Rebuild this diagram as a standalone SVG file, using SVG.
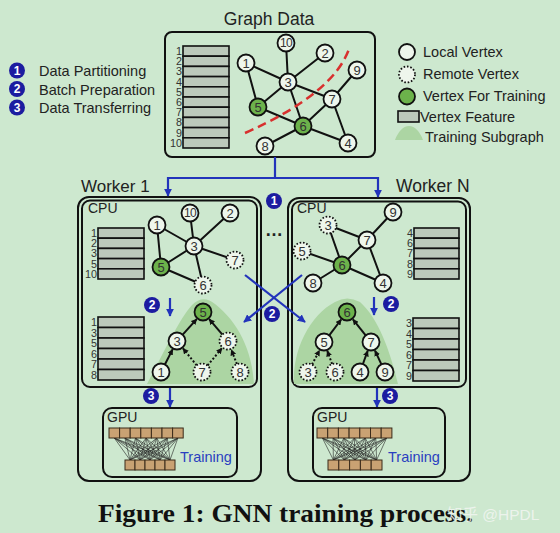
<svg xmlns="http://www.w3.org/2000/svg" width="560" height="533" viewBox="0 0 560 533">
<defs>
<style>
text{font-family:"Liberation Sans",Arial,sans-serif;fill:#222}
.n{fill:#eef6ec;stroke:#111;stroke-width:1.8}
.d{fill:#eef6ec;stroke:#111;stroke-width:1.8;stroke-dasharray:1.6 1.8}
.g{fill:#6cb24b;stroke:#111;stroke-width:1.8}
.t{font-size:13px;text-anchor:middle;fill:#333}
.tt{font-size:12px;text-anchor:middle;fill:#333;letter-spacing:-0.6px}
.e{stroke:#111;stroke-width:2;fill:none}
.ea{stroke:#111;stroke-width:2;fill:none;marker-end:url(#ah)}
.ed{stroke:#111;stroke-width:2;fill:none;stroke-dasharray:2 2;marker-end:url(#ah)}
.ba{stroke:#2233bb;stroke-width:2.2;fill:none;marker-end:url(#bh)}
.b{stroke:#2233bb;stroke-width:2.2;fill:none}
.f{fill:#bcc9bb;stroke:#111;stroke-width:1.6}
.fn{font-size:10.8px;text-anchor:end;fill:#333}
.c{fill:#1c1ca0}
.cn{font-size:12px;font-weight:bold;fill:#fff;text-anchor:middle}
.box{fill:none;stroke:#111;stroke-width:2}
.sub{fill:#acd5a3}
.nn{fill:#c9a273;stroke:#3a2a1a;stroke-width:1}
.w{stroke:#222;stroke-width:0.6;fill:none}
.lg{font-size:14.5px}
</style>
<marker id="ah" viewBox="0 0 10 10" refX="9" refY="5" markerWidth="6" markerHeight="6" markerUnits="userSpaceOnUse" orient="auto"><path d="M0,0L10,5L0,10z" fill="#111"/></marker>
<marker id="bh" viewBox="0 0 10 10" refX="9" refY="5" markerWidth="8" markerHeight="8" markerUnits="userSpaceOnUse" orient="auto"><path d="M0,0L10,5L0,10z" fill="#2233bb"/></marker>
</defs>
<rect width="560" height="533" fill="#cde8cf"/>

<!-- Titles -->
<text x="269" y="25" font-size="17.5" text-anchor="middle">Graph Data</text>
<text x="81" y="192" font-size="17">Worker 1</text>
<text x="396" y="192" font-size="17.5">Worker N</text>

<!-- Legend left -->
<g id="legend-steps">
<circle class="c" cx="17" cy="70.5" r="8"/><text class="cn" x="17" y="74.8">1</text>
<text class="lg" x="39" y="76">Data Partitioning</text>
<circle class="c" cx="17" cy="89" r="8"/><text class="cn" x="17" y="93.3">2</text>
<text class="lg" x="39" y="94.5">Batch Preparation</text>
<circle class="c" cx="17" cy="107.5" r="8"/><text class="cn" x="17" y="111.8">3</text>
<text class="lg" x="39" y="113">Data Transferring</text>
</g>

<!-- Legend right -->
<g id="legend-types">
<circle class="n" cx="407" cy="52" r="8"/><text class="lg" x="423" y="57">Local Vertex</text>
<circle class="d" cx="407" cy="74.5" r="8"/><text class="lg" x="423" y="79">Remote Vertex</text>
<circle class="g" cx="407" cy="96.5" r="8"/><text class="lg" x="423" y="101">Vertex For Training</text>
<rect class="f" x="398" y="111" width="21" height="11"/><text class="lg" x="420" y="122">Vertex Feature</text>
<path class="sub" d="M395,140C398,132 403,126 409,126C415,126 420,132 423,140Z"/><text class="lg" x="425" y="142">Training Subgraph</text>
</g>

<!-- Boxes -->
<g id="graph-data-box"><rect class="box" x="165" y="32" width="210" height="125" rx="7"/></g>
<g id="worker1">
<rect class="box" x="78" y="197" width="183" height="284" rx="11"/>
<rect class="box" x="82" y="200.5" width="175" height="186.5" rx="8"/>
<text x="88" y="213" font-size="14">CPU</text>
<path class="sub" d="M147,384C165,350 180,318 192,305Q203,294 215,304C238,322 252,350 254,384Z"/>
</g>
<g id="workerN">
<rect class="box" x="288" y="198" width="182" height="283" rx="11"/>
<rect class="box" x="292" y="201.5" width="174" height="185.5" rx="8"/>
<text x="297" y="213" font-size="14">CPU</text>
<path class="sub" d="M294,384C292,350 310,315 335,302Q347,295 360,302C378,318 390,350 398,384Z"/>
</g>

<!-- Feature tables -->
<g id="features-graph">
<rect class="f" x="183" y="46" width="46" height="10.2"/><rect class="f" x="183" y="56.2" width="46" height="10.2"/><rect class="f" x="183" y="66.4" width="46" height="10.2"/><rect class="f" x="183" y="76.6" width="46" height="10.2"/><rect class="f" x="183" y="86.8" width="46" height="10.2"/><rect class="f" x="183" y="97" width="46" height="10.2"/><rect class="f" x="183" y="107.2" width="46" height="10.2"/><rect class="f" x="183" y="117.4" width="46" height="10.2"/><rect class="f" x="183" y="127.6" width="46" height="10.2"/><rect class="f" x="183" y="137.8" width="46" height="10.2"/>
<text class="fn" x="182" y="55">1</text><text class="fn" x="182" y="65.2">2</text><text class="fn" x="182" y="75.4">3</text><text class="fn" x="182" y="85.6">4</text><text class="fn" x="182" y="95.8">5</text><text class="fn" x="182" y="106">6</text><text class="fn" x="182" y="116.2">7</text><text class="fn" x="182" y="126.4">8</text><text class="fn" x="182" y="136.6">9</text><text class="fn" x="182" y="146.8">10</text>
</g>
<g id="features-w1-all">
<rect class="f" x="98" y="228" width="46" height="10.2"/><rect class="f" x="98" y="238.2" width="46" height="10.2"/><rect class="f" x="98" y="248.4" width="46" height="10.2"/><rect class="f" x="98" y="258.6" width="46" height="10.2"/><rect class="f" x="98" y="268.8" width="46" height="10.2"/>
<text class="fn" x="97" y="237">1</text><text class="fn" x="97" y="247.2">2</text><text class="fn" x="97" y="257.4">3</text><text class="fn" x="97" y="267.6">5</text><text class="fn" x="97" y="277.8">10</text>
</g>
<g id="features-w1-batch">
<rect class="f" x="98" y="317" width="46" height="10.5"/><rect class="f" x="98" y="327.5" width="46" height="10.5"/><rect class="f" x="98" y="338" width="46" height="10.5"/><rect class="f" x="98" y="348.5" width="46" height="10.5"/><rect class="f" x="98" y="359" width="46" height="10.5"/><rect class="f" x="98" y="369.5" width="46" height="10.5"/>
<text class="fn" x="97" y="326.2">1</text><text class="fn" x="97" y="336.7">3</text><text class="fn" x="97" y="347.2">5</text><text class="fn" x="97" y="357.7">6</text><text class="fn" x="97" y="368.2">7</text><text class="fn" x="97" y="378.7">8</text>
</g>
<g id="features-wn-all">
<rect class="f" x="414" y="228" width="45" height="10.2"/><rect class="f" x="414" y="238.2" width="45" height="10.2"/><rect class="f" x="414" y="248.4" width="45" height="10.2"/><rect class="f" x="414" y="258.6" width="45" height="10.2"/><rect class="f" x="414" y="268.8" width="45" height="10.2"/>
<text class="fn" x="413" y="237">4</text><text class="fn" x="413" y="247.2">6</text><text class="fn" x="413" y="257.4">7</text><text class="fn" x="413" y="267.6">8</text><text class="fn" x="413" y="277.8">9</text>
</g>
<g id="features-wn-batch">
<rect class="f" x="413" y="318" width="46" height="10.5"/><rect class="f" x="413" y="328.5" width="46" height="10.5"/><rect class="f" x="413" y="339" width="46" height="10.5"/><rect class="f" x="413" y="349.5" width="46" height="10.5"/><rect class="f" x="413" y="360" width="46" height="10.5"/><rect class="f" x="413" y="370.5" width="46" height="10.5"/>
<text class="fn" x="412" y="327.2">3</text><text class="fn" x="412" y="337.7">4</text><text class="fn" x="412" y="348.2">5</text><text class="fn" x="412" y="358.7">6</text><text class="fn" x="412" y="369.2">7</text><text class="fn" x="412" y="379.7">9</text>
</g>

<!-- Connectors -->
<g id="connectors">
<path class="e" d="M246,63L288,82M246,63L258,107M286,43L288,82M325,53L288,82M288,82L258,107M288,82L303,126M288,82L332,99M258,107L303,126M357,70L332,99M332,99L303,126M332,99L348,143M303,126L348,143M303,126L265,146"/>
<path d="M245,133Q333,94 349,49" fill="none" stroke="#d8302e" stroke-width="2.5" stroke-dasharray="9 5"/>
<path class="e" d="M157,225L194,246M157,225L161,267M190,213L194,246M230,213L194,246M194,246L235,260M194,246L161,267M194,246L203,285M161,267L203,285"/>
<path class="e" d="M393,212L367,240M328,225L342,265M328,225L367,240M302,251L342,265M367,240L342,265M367,240L383,283M342,265L313,283M342,265L383,283"/>
<path class="ea" d="M182.7,334.7L196.7,319.1"/>
<path class="ea" d="M222.4,334.6L209.2,319.2"/>
<path class="ea" d="M164.9,364.5L172.6,349.4"/>
<path class="ed" d="M196.7,365.4L183,348.4"/>
<path class="ed" d="M207.5,365.5L221.9,348.3"/>
<path class="ed" d="M236.9,364.1L231.4,349.9"/>
<path class="ea" d="M329.2,335.3L341.2,319.5"/>
<path class="ea" d="M365.7,335.4L352.9,319.4"/>
<path class="ed" d="M312,364.5L319.5,350.4"/>
<path class="ed" d="M332.1,364L327.3,350.9"/>
<path class="ea" d="M362.9,364L367.7,350.9"/>
<path class="ea" d="M381.4,364.3L375,350.6"/>
<path class="b" d="M275,157V178M168,178H378"/>
<path class="ba" d="M168,177V196"/>
<path class="ba" d="M378,177V197"/>
<path class="ba" d="M245,275L305,322"/>
<path class="ba" d="M302,275L244,322"/>
<path class="ba" d="M170,298V316"/>
<path class="ba" d="M374,297V315"/>
<path class="ba" d="M170,388V407"/>
<path class="ba" d="M377,388V407"/>
</g>

<!-- step markers -->
<g id="step1"><circle class="c" cx="274" cy="201" r="8"/><text class="cn" x="274" y="205.3">1</text></g>
<g id="step2-w1"><circle class="c" cx="152" cy="305" r="8"/><text class="cn" x="152" y="309.3">2</text></g>
<g id="step2-mid"><circle class="c" cx="272" cy="314" r="8"/><text class="cn" x="272" y="318.3">2</text></g>
<g id="step2-wn"><circle class="c" cx="391" cy="304" r="8"/><text class="cn" x="391" y="308.3">2</text></g>
<g id="step3-w1"><circle class="c" cx="151" cy="396" r="8"/><text class="cn" x="151" y="400.3">3</text></g>
<g id="step3-wn"><circle class="c" cx="390" cy="396" r="8"/><text class="cn" x="390" y="400.3">3</text></g>
<text x="274" y="236" font-size="18" font-weight="bold" text-anchor="middle">…</text>

<!-- Graph data nodes -->
<g id="gd-10"><circle class="n" cx="286" cy="43" r="8.5"/><text class="tt" x="286" y="47.3">10</text></g>
<g id="gd-2"><circle class="n" cx="325" cy="53" r="8.5"/><text class="t" x="325" y="57.5">2</text></g>
<g id="gd-1"><circle class="n" cx="246" cy="63" r="8.5"/><text class="t" x="246" y="67.5">1</text></g>
<g id="gd-9"><circle class="n" cx="357" cy="70" r="8.5"/><text class="t" x="357" y="74.5">9</text></g>
<g id="gd-3"><circle class="n" cx="288" cy="82" r="8.5"/><text class="t" x="288" y="86.5">3</text></g>
<g id="gd-7"><circle class="n" cx="332" cy="99" r="8.5"/><text class="t" x="332" y="103.5">7</text></g>
<g id="gd-5"><circle class="g" cx="258" cy="107" r="8.5"/><text class="t" x="258" y="111.5">5</text></g>
<g id="gd-6"><circle class="g" cx="303" cy="126" r="8.5"/><text class="t" x="303" y="130.5">6</text></g>
<g id="gd-4"><circle class="n" cx="348" cy="143" r="8.5"/><text class="t" x="348" y="147.5">4</text></g>
<g id="gd-8"><circle class="n" cx="265" cy="146" r="8.5"/><text class="t" x="265" y="150.5">8</text></g>

<!-- Worker 1 CPU nodes -->
<g id="w1-1"><circle class="n" cx="157" cy="225" r="8.5"/><text class="t" x="157" y="229.5">1</text></g>
<g id="w1-10"><circle class="n" cx="190" cy="213" r="8.5"/><text class="tt" x="190" y="217.3">10</text></g>
<g id="w1-2"><circle class="n" cx="230" cy="213" r="8.5"/><text class="t" x="230" y="217.5">2</text></g>
<g id="w1-3"><circle class="n" cx="194" cy="246" r="8.5"/><text class="t" x="194" y="250.5">3</text></g>
<g id="w1-7"><circle class="d" cx="235" cy="260" r="8.5"/><text class="t" x="235" y="264.5">7</text></g>
<g id="w1-5"><circle class="g" cx="161" cy="267" r="8.5"/><text class="t" x="161" y="271.5">5</text></g>
<g id="w1-6"><circle class="d" cx="203" cy="285" r="8.5"/><text class="t" x="203" y="289.5">6</text></g>

<!-- Worker N CPU nodes -->
<g id="wn-9"><circle class="n" cx="393" cy="212" r="8.5"/><text class="t" x="393" y="216.5">9</text></g>
<g id="wn-3"><circle class="d" cx="328" cy="225" r="8.5"/><text class="t" x="328" y="229.5">3</text></g>
<g id="wn-7"><circle class="n" cx="367" cy="240" r="8.5"/><text class="t" x="367" y="244.5">7</text></g>
<g id="wn-5"><circle class="d" cx="302" cy="251" r="8.5"/><text class="t" x="302" y="255.5">5</text></g>
<g id="wn-6"><circle class="g" cx="342" cy="265" r="8.5"/><text class="t" x="342" y="269.5">6</text></g>
<g id="wn-8"><circle class="n" cx="313" cy="283" r="8.5"/><text class="t" x="313" y="287.5">8</text></g>
<g id="wn-4"><circle class="n" cx="383" cy="283" r="8.5"/><text class="t" x="383" y="287.5">4</text></g>

<!-- Worker 1 subgraph nodes -->
<g id="w1t-5"><circle class="g" cx="203" cy="312" r="8.5"/><text class="t" x="203" y="316.5">5</text></g>
<g id="w1t-3"><circle class="n" cx="177" cy="341" r="8.5"/><text class="t" x="177" y="345.5">3</text></g>
<g id="w1t-6"><circle class="d" cx="228" cy="341" r="8.5"/><text class="t" x="228" y="345.5">6</text></g>
<g id="w1t-1"><circle class="n" cx="161" cy="372" r="8.5"/><text class="t" x="161" y="376.5">1</text></g>
<g id="w1t-7"><circle class="d" cx="202" cy="372" r="8.5"/><text class="t" x="202" y="376.5">7</text></g>
<g id="w1t-8"><circle class="d" cx="240" cy="372" r="8.5"/><text class="t" x="240" y="376.5">8</text></g>

<!-- Worker N subgraph nodes -->
<g id="wnt-6"><circle class="g" cx="347" cy="312" r="8.5"/><text class="t" x="347" y="316.5">6</text></g>
<g id="wnt-5"><circle class="n" cx="324" cy="342" r="8.5"/><text class="t" x="324" y="346.5">5</text></g>
<g id="wnt-7"><circle class="n" cx="371" cy="342" r="8.5"/><text class="t" x="371" y="346.5">7</text></g>
<g id="wnt-3"><circle class="d" cx="308" cy="372" r="8.5"/><text class="t" x="308" y="376.5">3</text></g>
<g id="wnt-6b"><circle class="d" cx="335" cy="372" r="8.5"/><text class="t" x="335" y="376.5">6</text></g>
<g id="wnt-4"><circle class="n" cx="360" cy="372" r="8.5"/><text class="t" x="360" y="376.5">4</text></g>
<g id="wnt-9"><circle class="n" cx="385" cy="372" r="8.5"/><text class="t" x="385" y="376.5">9</text></g>

<!-- GPU Worker 1 -->
<g id="gpu-w1">
<rect class="box" x="103" y="408" width="134" height="69" rx="9"/>
<text x="107" y="422" font-size="14">GPU</text>
<path class="w" d="M114.3,438L130,460M114.3,438L140,460M114.3,438L150,460M114.3,438L160,460M114.3,438L170,460M124.9,438L130,460M124.9,438L140,460M124.9,438L150,460M124.9,438L160,460M124.9,438L170,460M135.5,438L130,460M135.5,438L140,460M135.5,438L150,460M135.5,438L160,460M135.5,438L170,460M146.1,438L130,460M146.1,438L140,460M146.1,438L150,460M146.1,438L160,460M146.1,438L170,460M156.7,438L130,460M156.7,438L140,460M156.7,438L150,460M156.7,438L160,460M156.7,438L170,460M167.3,438L130,460M167.3,438L140,460M167.3,438L150,460M167.3,438L160,460M167.3,438L170,460M177.9,438L130,460M177.9,438L140,460M177.9,438L150,460M177.9,438L160,460M177.9,438L170,460"/>
<rect class="nn" x="109" y="428" width="10.6" height="10"/><rect class="nn" x="119.6" y="428" width="10.6" height="10"/><rect class="nn" x="130.2" y="428" width="10.6" height="10"/><rect class="nn" x="140.8" y="428" width="10.6" height="10"/><rect class="nn" x="151.4" y="428" width="10.6" height="10"/><rect class="nn" x="162" y="428" width="10.6" height="10"/><rect class="nn" x="172.6" y="428" width="10.6" height="10"/>
<rect class="nn" x="125" y="460" width="10" height="10"/><rect class="nn" x="135" y="460" width="10" height="10"/><rect class="nn" x="145" y="460" width="10" height="10"/><rect class="nn" x="155" y="460" width="10" height="10"/><rect class="nn" x="165" y="460" width="10" height="10"/>
<text x="180" y="462" font-size="14.5" style="fill:#2a3fc0">Training</text>
</g>

<!-- GPU Worker N -->
<g id="gpu-wn">
<rect class="box" x="313" y="408" width="132" height="69" rx="9"/>
<text x="317" y="422" font-size="14">GPU</text>
<path class="w" d="M322.4,438L333.4,460M322.4,438L344.2,460M322.4,438L355,460M322.4,438L365.8,460M322.4,438L376.6,460M333,438L333.4,460M333,438L344.2,460M333,438L355,460M333,438L365.8,460M333,438L376.6,460M343.8,438L333.4,460M343.8,438L344.2,460M343.8,438L355,460M343.8,438L365.8,460M343.8,438L376.6,460M354.4,438L333.4,460M354.4,438L344.2,460M354.4,438L355,460M354.4,438L365.8,460M354.4,438L376.6,460M365.2,438L333.4,460M365.2,438L344.2,460M365.2,438L355,460M365.2,438L365.8,460M365.2,438L376.6,460M375.8,438L333.4,460M375.8,438L344.2,460M375.8,438L355,460M375.8,438L365.8,460M375.8,438L376.6,460M386.6,438L333.4,460M386.6,438L344.2,460M386.6,438L355,460M386.6,438L365.8,460M386.6,438L376.6,460"/>
<rect class="nn" x="317" y="428" width="10.7" height="10"/><rect class="nn" x="327.7" y="428" width="10.7" height="10"/><rect class="nn" x="338.4" y="428" width="10.7" height="10"/><rect class="nn" x="349.1" y="428" width="10.7" height="10"/><rect class="nn" x="359.8" y="428" width="10.7" height="10"/><rect class="nn" x="370.5" y="428" width="10.7" height="10"/><rect class="nn" x="381.2" y="428" width="10.7" height="10"/>
<rect class="nn" x="328" y="460" width="10.8" height="10"/><rect class="nn" x="338.8" y="460" width="10.8" height="10"/><rect class="nn" x="349.6" y="460" width="10.8" height="10"/><rect class="nn" x="360.4" y="460" width="10.8" height="10"/><rect class="nn" x="371.2" y="460" width="10.8" height="10"/>
<text x="388" y="462" font-size="14.5" style="fill:#2a3fc0">Training</text>
</g>

<!-- Caption -->
<text x="98" y="522" font-size="26" font-weight="bold" textLength="375" lengthAdjust="spacingAndGlyphs" style="fill:#111;font-family:'Liberation Serif','Times New Roman',serif">Figure 1: GNN training process.</text>
<text x="447" y="520" font-size="15.5" style="fill:#f2f6f2;opacity:0.85;font-family:'Liberation Sans','Noto Sans CJK SC',sans-serif">知乎 @HPDL</text>
</svg>
